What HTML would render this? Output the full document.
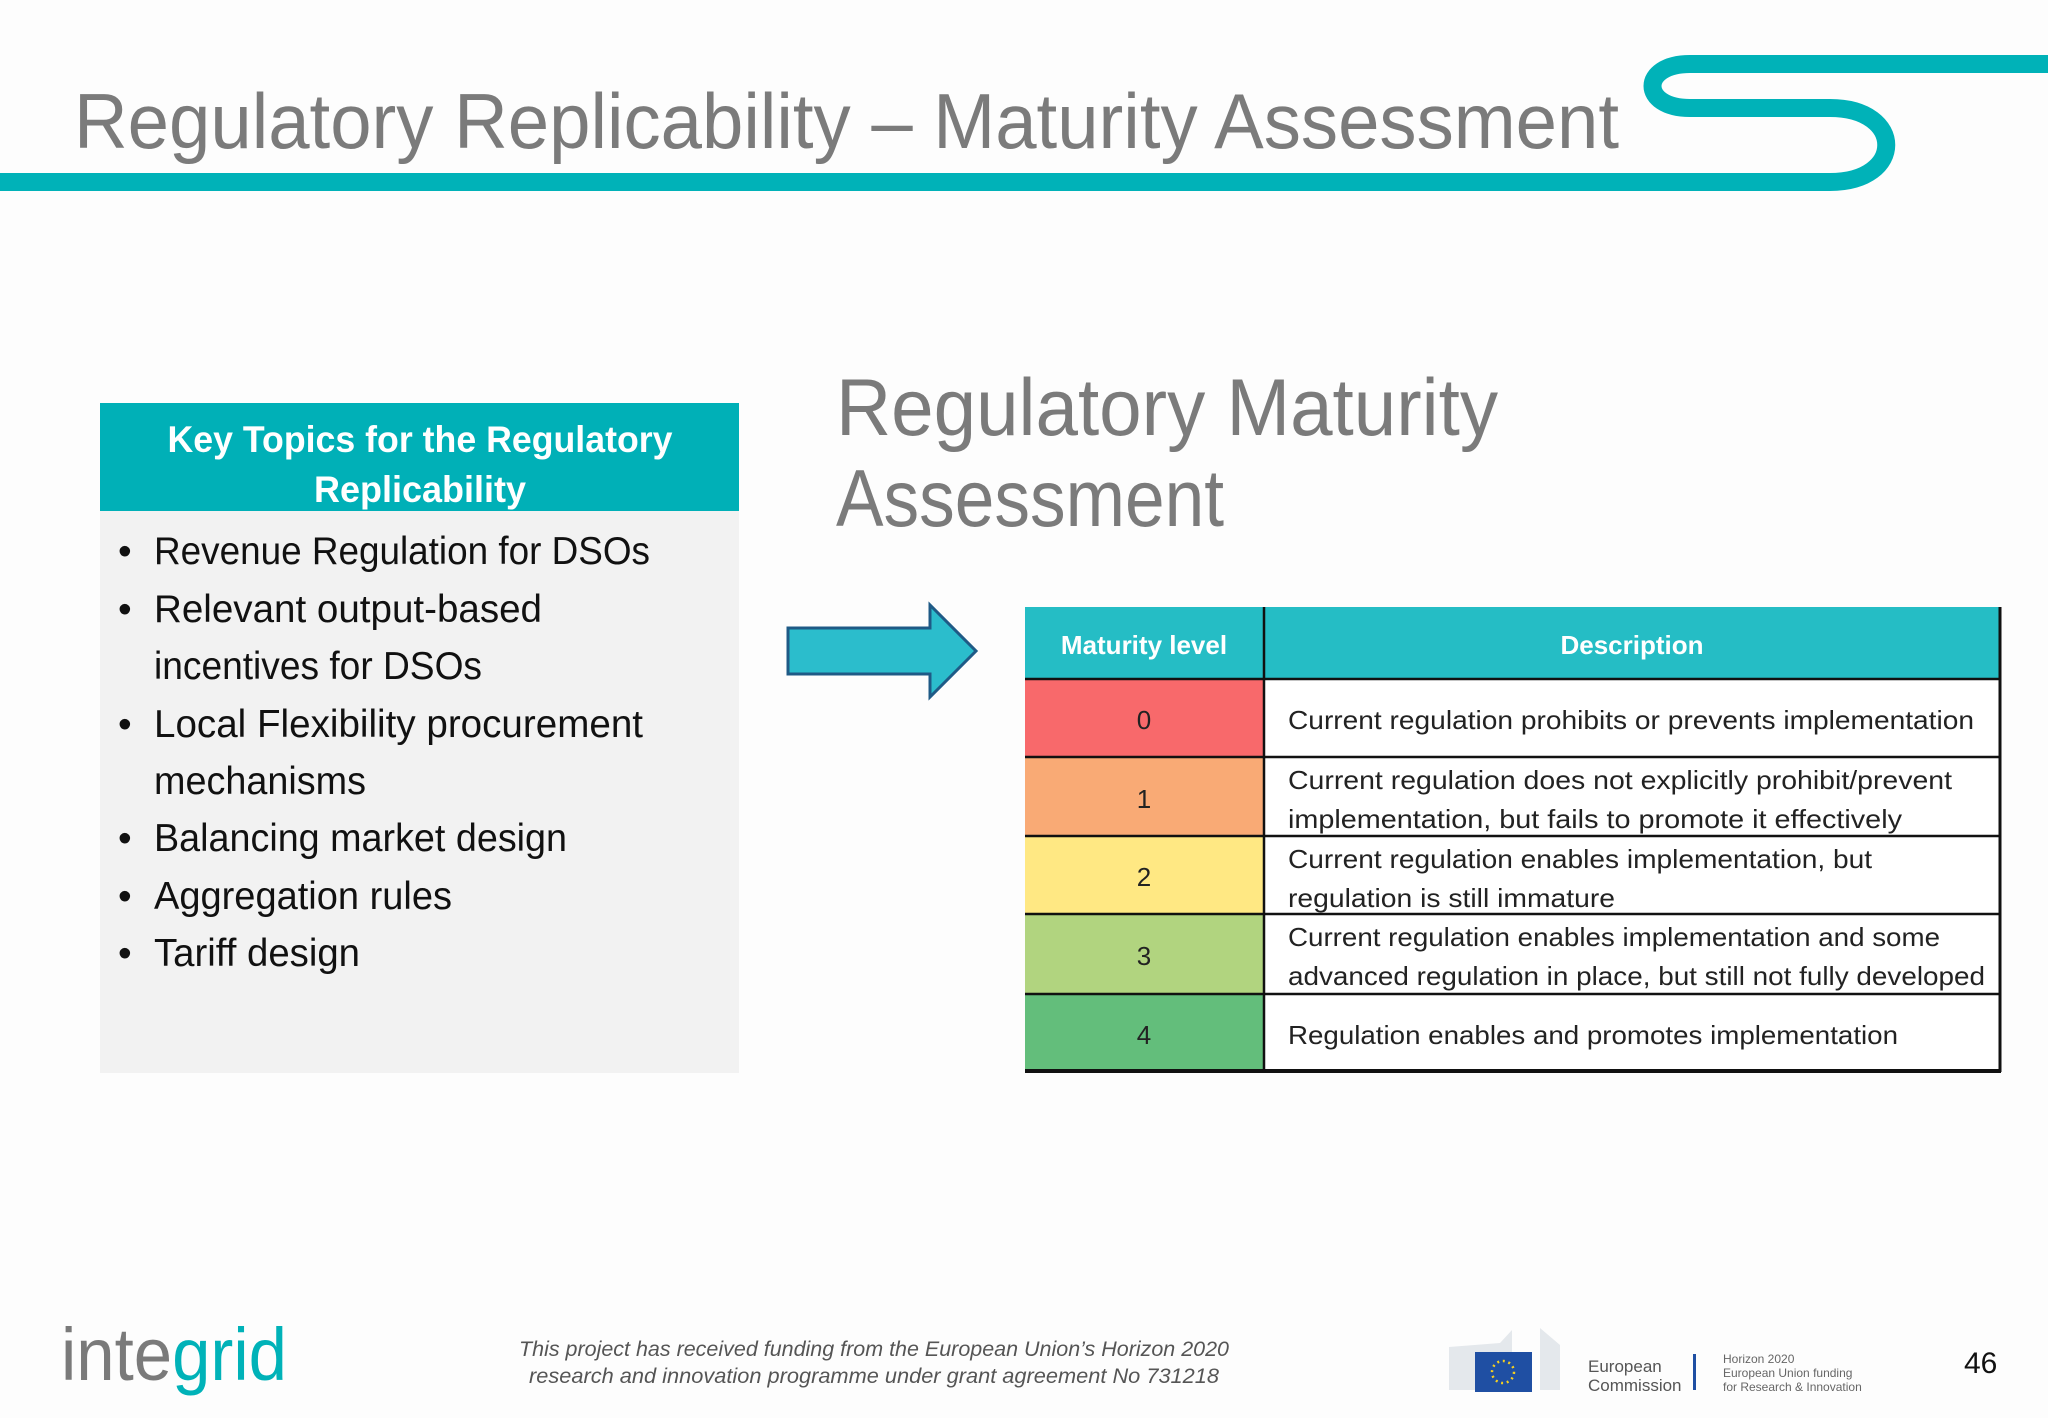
<!DOCTYPE html>
<html><head><meta charset="utf-8"><style>
html,body{margin:0;padding:0;background:#fdfdfd;}
svg{display:block;font-family:"Liberation Sans",sans-serif;}
</style></head><body>
<svg width="2048" height="1418" viewBox="0 0 2048 1418">
<rect width="2048" height="1418" fill="#fdfdfd"/>
<path d="M2048,64 L1690,64 C1640,64 1640,108 1690,108 L1830,108 C1905,108 1905,182 1830,182 L0,182" fill="none" stroke="#00b2b8" stroke-width="18"/>
<text x="74" y="148" font-size="78" fill="#7b7b7b" textLength="1545" lengthAdjust="spacingAndGlyphs">Regulatory Replicability – Maturity Assessment</text>

<g>
<rect x="100" y="403" width="639" height="670" fill="#f2f2f2"/>
<rect x="100" y="403" width="639" height="108" fill="#00b0b7"/>
<text x="420" y="452" font-size="37" font-weight="bold" fill="#fff" text-anchor="middle" textLength="505" lengthAdjust="spacingAndGlyphs">Key Topics for the Regulatory</text>
<text x="420" y="502" font-size="37" font-weight="bold" fill="#fff" text-anchor="middle" textLength="212" lengthAdjust="spacingAndGlyphs">Replicability</text>
<g font-size="39" fill="#111">
<text x="118" y="564">•</text>
<text x="154" y="564" textLength="496" lengthAdjust="spacingAndGlyphs">Revenue Regulation for DSOs</text>
<text x="118" y="622">•</text>
<text x="154" y="622" textLength="388" lengthAdjust="spacingAndGlyphs">Relevant output-based</text>
<text x="154" y="679" textLength="328" lengthAdjust="spacingAndGlyphs">incentives for DSOs</text>
<text x="118" y="737">•</text>
<text x="154" y="737" textLength="489" lengthAdjust="spacingAndGlyphs">Local Flexibility procurement</text>
<text x="154" y="794" textLength="212" lengthAdjust="spacingAndGlyphs">mechanisms</text>
<text x="118" y="851">•</text>
<text x="154" y="851" textLength="413" lengthAdjust="spacingAndGlyphs">Balancing market design</text>
<text x="118" y="909">•</text>
<text x="154" y="909" textLength="298" lengthAdjust="spacingAndGlyphs">Aggregation rules</text>
<text x="118" y="966">•</text>
<text x="154" y="966" textLength="206" lengthAdjust="spacingAndGlyphs">Tariff design</text>
</g>
</g>

<text x="836" y="435" font-size="81" fill="#7b7b7b" textLength="662" lengthAdjust="spacingAndGlyphs">Regulatory Maturity</text>
<text x="836" y="526" font-size="81" fill="#7b7b7b" textLength="388" lengthAdjust="spacingAndGlyphs">Assessment</text>

<path d="M788,628 L930,628 L930,605 L976,651 L930,697 L930,674 L788,674 Z" fill="#2bbdcc" stroke="#1f5a86" stroke-width="3"/>

<g>
<rect x="1025" y="607" width="976" height="72" fill="#25bdc5"/>
<text x="1144" y="654" font-size="26" font-weight="bold" fill="#fff" text-anchor="middle">Maturity level</text>
<text x="1632" y="654" font-size="26" font-weight="bold" fill="#fff" text-anchor="middle">Description</text>
<rect x="1025" y="679" width="239" height="78" fill="#f8696b"/>
<rect x="1025" y="757" width="239" height="79" fill="#f9aa75"/>
<rect x="1025" y="836" width="239" height="78" fill="#ffe883"/>
<rect x="1025" y="914" width="239" height="80" fill="#b1d47f"/>
<rect x="1025" y="994" width="239" height="78" fill="#63be7b"/>
<rect x="1264" y="679" width="737" height="393" fill="#fff"/>
<g stroke="#111" stroke-width="2.5">
<line x1="1025" y1="679" x2="2001" y2="679"/>
<line x1="1025" y1="757" x2="2001" y2="757"/>
<line x1="1025" y1="836" x2="2001" y2="836"/>
<line x1="1025" y1="914" x2="2001" y2="914"/>
<line x1="1025" y1="994" x2="2001" y2="994"/>
<line x1="1025" y1="1071" x2="2001" y2="1071" stroke-width="4"/>
<line x1="1264" y1="607" x2="1264" y2="1072"/>
<line x1="2000" y1="607" x2="2000" y2="1072" stroke-width="3"/>
</g>
<g font-size="26" fill="#222" text-anchor="middle">
<text x="1144" y="729">0</text>
<text x="1144" y="808">1</text>
<text x="1144" y="886">2</text>
<text x="1144" y="965">3</text>
<text x="1144" y="1044">4</text>
</g>
<g font-size="26" fill="#222">
<text x="1288" y="729" textLength="686" lengthAdjust="spacingAndGlyphs">Current regulation prohibits or prevents implementation</text>
<text x="1288" y="789" textLength="664" lengthAdjust="spacingAndGlyphs">Current regulation does not explicitly prohibit/prevent</text>
<text x="1288" y="828" textLength="614" lengthAdjust="spacingAndGlyphs">implementation, but fails to promote it effectively</text>
<text x="1288" y="868" textLength="584" lengthAdjust="spacingAndGlyphs">Current regulation enables implementation, but</text>
<text x="1288" y="907" textLength="327" lengthAdjust="spacingAndGlyphs">regulation is still immature</text>
<text x="1288" y="946" textLength="652" lengthAdjust="spacingAndGlyphs">Current regulation enables implementation and some</text>
<text x="1288" y="985" textLength="697" lengthAdjust="spacingAndGlyphs">advanced regulation in place, but still not fully developed</text>
<text x="1288" y="1044" textLength="610" lengthAdjust="spacingAndGlyphs">Regulation enables and promotes implementation</text>
</g>
</g>

<g>
<text x="61" y="1380" font-size="74" textLength="226" lengthAdjust="spacingAndGlyphs"><tspan fill="#7a7a7a">inte</tspan><tspan fill="#00b2b8">grid</tspan></text>
</g>
<g font-size="21" font-style="italic" fill="#555" text-anchor="middle">
<text x="874" y="1356" textLength="710" lengthAdjust="spacingAndGlyphs">This project has received funding from the European Union’s Horizon 2020</text>
<text x="874" y="1383" textLength="690" lengthAdjust="spacingAndGlyphs">research and innovation programme under grant agreement No 731218</text>
</g>
<g>
<path d="M1449,1390 L1449,1347 L1500,1343 L1512,1330 L1512,1390 Z M1540,1328 L1560,1345 L1560,1390 L1540,1390 Z" fill="#e4e8ec"/>
<rect x="1475" y="1352" width="57" height="40" fill="#1f4fa3"/>
<circle cx="1503" cy="1372" r="11" fill="none" stroke="#f5d020" stroke-width="2.5" stroke-dasharray="2 3.7"/>
<text x="1588" y="1372" font-size="17" fill="#555">European</text>
<text x="1588" y="1391" font-size="17" fill="#555">Commission</text>
<rect x="1693" y="1354" width="3" height="36" fill="#1f4fa3"/>
<text x="1723" y="1363" font-size="12" fill="#666">Horizon 2020</text>
<text x="1723" y="1377" font-size="12" fill="#666">European Union funding</text>
<text x="1723" y="1391" font-size="12" fill="#666">for Research &amp; Innovation</text>
</g>
<text x="1964" y="1373" font-size="30" fill="#111">46</text>
</svg>
</body></html>
